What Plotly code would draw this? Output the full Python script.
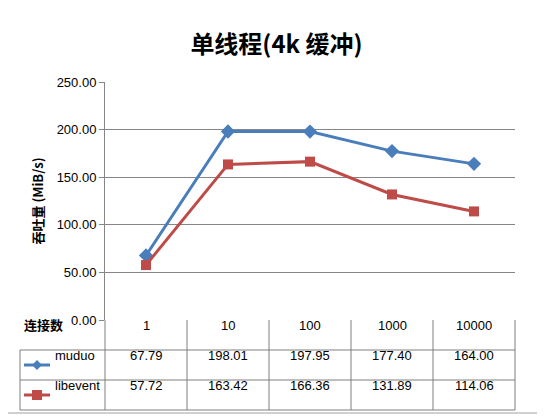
import plotly.graph_objects as go

categories = ["1", "10", "100", "1000", "10000"]
muduo = [67.79, 198.01, 197.95, 177.40, 164.00]
libevent = [57.72, 163.42, 166.36, 131.89, 114.06]
series = [("muduo", muduo, "#4A7EBB", "diamond"), ("libevent", libevent, "#BE4B48", "square")]

OFF = 8  # page body margin
W, H = 545 - OFF, 417 - OFF
L, R, T, B = 105 - OFF, 30, 82 - OFF, 97
pw, ph = W - L - R, H - T - B


def px(x):  # reference pixel -> paper x
    return (x - OFF - L) / pw


def py(y):  # reference pixel -> paper y
    return (H - B - (y - OFF)) / ph


xs = list(range(len(categories)))
fig = go.Figure()
for name, vals, col, sym in series:
    fig.add_trace(go.Scatter(x=xs, y=vals, mode="lines+markers", name=name,
                             line=dict(color=col, width=3),
                             marker=dict(symbol=sym, size=10 if sym == "square" else 11, color=col)))

font = "Liberation Sans, Noto Sans CJK SC, sans-serif"
shapes, ann = [], []
line = dict(color="#7f7f7f", width=1)
shapes.append(dict(type="rect", xref="paper", yref="paper", x0=px(3), x1=px(541),
                   y0=py(413), y1=py(3), line=dict(color="#a0a0a0", width=1)))
for yy in (350, 380, 410):
    shapes.append(dict(type="line", xref="paper", yref="paper", x0=px(20), x1=px(515),
                       y0=py(yy), y1=py(yy), line=line))
for i in range(len(categories) + 1):
    xp = 105 + i * pw / len(categories)
    shapes.append(dict(type="line", xref="paper", yref="paper", x0=px(xp), x1=px(xp),
                       y0=py(320), y1=py(410), line=line))
shapes.append(dict(type="line", xref="paper", yref="paper", x0=px(20), x1=px(20),
                   y0=py(350), y1=py(410), line=line))

ann.append(dict(text="<b>连接数</b>", xref="paper", yref="paper", x=px(22), y=py(335),
                xanchor="left", showarrow=False, font=dict(size=13, color="black")))
for i, c in enumerate(categories):
    ann.append(dict(text=c, xref="x", yref="paper", x=i, y=py(335), showarrow=False,
                    font=dict(size=13, color="black")))
for r, (name, vals, col, sym) in enumerate(series):
    yc = 365 + 30 * r
    shapes.append(dict(type="line", xref="paper", yref="paper", x0=px(24), x1=px(50),
                       y0=py(yc), y1=py(yc), line=dict(color=col, width=3)))
    if sym == "square":
        shapes.append(dict(type="rect", xref="paper", yref="paper", x0=px(32), x1=px(42),
                           y0=py(yc + 5), y1=py(yc - 5), fillcolor=col, line=dict(width=0)))
    else:
        shapes.append(dict(type="path", xref="paper", yref="paper", fillcolor=col, line=dict(width=0),
                           path=f"M {px(37)},{py(yc-5)} L {px(42)},{py(yc)} L {px(37)},{py(yc+5)} L {px(32)},{py(yc)} Z"))
    ann.append(dict(text=name, xref="paper", yref="paper", x=px(53), y=py(yc), xanchor="left",
                    showarrow=False, font=dict(size=13, color="black")))
    for i, v in enumerate(vals):
        ann.append(dict(text=f"{v:.2f}", xref="x", yref="paper", x=i, y=py(yc), showarrow=False,
                        font=dict(size=13, color="black")))

fig.update_layout(
    width=W, height=H, margin=dict(l=L, r=R, t=T, b=B),
    paper_bgcolor="white", plot_bgcolor="white", showlegend=False,
    font=dict(family=font, color="black"),
    title=dict(text="<b>单线程(4k 缓冲)</b>", x=0.5, y=1 - (45 - OFF) / H, xanchor="center", yanchor="middle",
               font=dict(size=24, family="Noto Sans CJK SC")),
    xaxis=dict(range=[-0.5, 4.5], showticklabels=False, showgrid=False, zeroline=False,
               showline=False, ticks=""),
    yaxis=dict(range=[0, 250], dtick=50, tickformat=".2f", showgrid=True, gridcolor="#868686",
               showline=True, linecolor="#868686", ticks="outside", ticklen=5, tickcolor="#868686",
               zeroline=False, tickfont=dict(size=13),
               title=dict(text="<b>吞吐量 (MiB/s)</b>", font=dict(size=13, family="Noto Sans CJK SC"), standoff=10)),
    shapes=shapes, annotations=ann,
)
fig.write_html("out.html")
